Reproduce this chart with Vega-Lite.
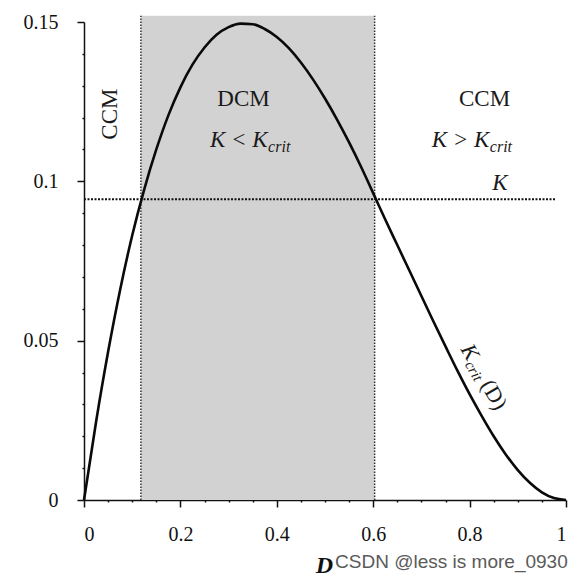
{
  "$schema": "https://vega.github.io/schema/vega-lite/v6.json",
  "width": 482,
  "height": 478,
  "autosize": {"type": "none"},
  "padding": {"left": 84, "top": 22, "right": 21, "bottom": 81},
  "background": "white",
  "config": {
    "view": {"stroke": null},
    "font": "Liberation Serif",
    "axis": {
      "grid": false,
      "domainColor": "#111",
      "domainWidth": 1.5,
      "tickColor": "#111",
      "tickWidth": 1.5,
      "labelOverlap": false,
      "labelFont": "Liberation Serif",
      "labelFontSize": 20,
      "labelColor": "#111"
    }
  },
  "datasets": {
    "curve": [
      {"D": 0, "K": 0}, {"D": 0.025, "K": 0.0245}, {"D": 0.05, "K": 0.0465},
      {"D": 0.075, "K": 0.066}, {"D": 0.1, "K": 0.083}, {"D": 0.125, "K": 0.0975},
      {"D": 0.15, "K": 0.11}, {"D": 0.175, "K": 0.1207}, {"D": 0.2, "K": 0.1295},
      {"D": 0.225, "K": 0.1366}, {"D": 0.25, "K": 0.142}, {"D": 0.275, "K": 0.146},
      {"D": 0.3, "K": 0.1484}, {"D": 0.325, "K": 0.1495}, {"D": 0.35, "K": 0.1493},
      {"D": 0.375, "K": 0.1478}, {"D": 0.4, "K": 0.1453}, {"D": 0.425, "K": 0.1418},
      {"D": 0.45, "K": 0.1373}, {"D": 0.475, "K": 0.132}, {"D": 0.5, "K": 0.126},
      {"D": 0.525, "K": 0.1194}, {"D": 0.55, "K": 0.1122}, {"D": 0.575, "K": 0.1045},
      {"D": 0.6, "K": 0.0963}, {"D": 0.625, "K": 0.088}, {"D": 0.65, "K": 0.08},
      {"D": 0.675, "K": 0.072}, {"D": 0.7, "K": 0.064}, {"D": 0.725, "K": 0.056},
      {"D": 0.75, "K": 0.0482}, {"D": 0.775, "K": 0.0405}, {"D": 0.8, "K": 0.0332},
      {"D": 0.825, "K": 0.0264}, {"D": 0.85, "K": 0.02}, {"D": 0.875, "K": 0.0143},
      {"D": 0.9, "K": 0.0094}, {"D": 0.925, "K": 0.0054}, {"D": 0.95, "K": 0.0024},
      {"D": 0.975, "K": 0.0006}, {"D": 1, "K": 0}
    ],
    "region": [{"D1": 0.118, "D2": 0.603, "K1": 0, "K2": 0.152}],
    "borders": [{"D": 0.118, "K1": 0, "K2": 0.152}, {"D": 0.603, "K1": 0, "K2": 0.152}],
    "kline": [{"D1": 0, "D2": 0.978, "K": 0.0944}],
    "plain": [
      {"label": "DCM", "D": 0.331, "K": 0.1257},
      {"label": "CCM", "D": 0.831, "K": 0.1257}
    ],
    "vert": [{"label": "CCM", "D": 0.054, "K": 0.1211}],
    "ital": [
      {"label": "K < K", "D": 0.381, "K": 0.1131},
      {"label": "K > K", "D": 0.841, "K": 0.1131},
      {"label": "K", "D": 0.879, "K": 0.0996}
    ],
    "sub": [
      {"label": "crit", "D": 0.382, "K": 0.1131},
      {"label": "crit", "D": 0.842, "K": 0.1131}
    ],
    "rotK": [{"label": "K", "D": 0.8008, "K": 0.0464}],
    "rotSub": [{"label": "crit", "D": 0.809, "K": 0.0405}],
    "rotD": [{"label": "(D)", "D": 0.8506, "K": 0.033}],
    "mark": [{"label": "CSDN @less is more_0930", "D": 0.521, "K": -0.0214}]
  },
  "layer": [
    {
      "data": {"name": "region"},
      "mark": {"type": "rect", "fill": "#d2d2d2", "stroke": null},
      "encoding": {
        "x": {"field": "D1", "type": "quantitative",
              "scale": {"domain": [0, 1], "nice": false},
              "axis": {"values": [0, 0.05, 0.1, 0.15, 0.2, 0.25, 0.3, 0.35, 0.4, 0.45, 0.5, 0.55, 0.6, 0.65, 0.7, 0.75, 0.8, 0.85, 0.9, 0.95, 1],
                       "tickCount": 100,
                       "format": "~g",
                       "labelOverlap": false,
                       "labelExpr": "indexof(['0','0.2','0.4','0.6','0.8','1'], datum.label) >= 0 ? datum.label : ''",
                       "tickSize": {"condition": {"test": "indexof(['0','0.2','0.4','0.6','0.8','1'], format(datum.value, '~g')) >= 0", "value": 7}, "value": 2},
                       "labelPadding": 17, "title": "D", "titleFont": "Liberation Serif",
                       "titleFontSize": 24, "titleFontStyle": "italic", "titleFontWeight": "bold",
                       "titleColor": "#111", "titleBaseline": "alphabetic", "titleY": 72, "titleX": 240}},
        "x2": {"field": "D2"},
        "y": {"field": "K1", "type": "quantitative",
              "scale": {"domain": [0, 0.15], "nice": false, "zero": true},
              "axis": {"values": [0, 0.01, 0.02, 0.03, 0.04, 0.05, 0.06, 0.07, 0.08, 0.09, 0.1, 0.11, 0.12, 0.13, 0.14, 0.15],
                       "tickCount": 100,
                       "format": "~g",
                       "labelOverlap": false,
                       "labelExpr": "indexof(['0','0.05','0.1','0.15'], datum.label) >= 0 ? datum.label : ''",
                       "tickSize": {"condition": {"test": "indexof(['0','0.05','0.1','0.15'], format(datum.value, '~g')) >= 0", "value": 7}, "value": 2},
                       "labelPadding": 19, "title": null}},
        "y2": {"field": "K2"}
      }
    },
    {
      "data": {"name": "borders"},
      "mark": {"type": "rule", "color": "#333", "strokeWidth": 1.5, "strokeDash": [1.5, 1.5]},
      "encoding": {
        "x": {"field": "D", "type": "quantitative"},
        "y": {"field": "K1", "type": "quantitative"},
        "y2": {"field": "K2"}
      }
    },
    {
      "data": {"name": "kline"},
      "mark": {"type": "rule", "color": "#111", "strokeWidth": 2, "strokeDash": [2, 1.5]},
      "encoding": {
        "x": {"field": "D1", "type": "quantitative"},
        "x2": {"field": "D2"},
        "y": {"field": "K", "type": "quantitative"}
      }
    },
    {
      "data": {"name": "curve"},
      "mark": {"type": "line", "color": "#0a0a0a", "strokeWidth": 2.6, "interpolate": "monotone"},
      "encoding": {
        "x": {"field": "D", "type": "quantitative"},
        "y": {"field": "K", "type": "quantitative"}
      }
    },
    {
      "data": {"name": "plain"},
      "mark": {"type": "text", "font": "Liberation Serif", "fontSize": 23, "color": "#1a1a1a", "align": "center", "baseline": "middle"},
      "encoding": {
        "x": {"field": "D", "type": "quantitative"},
        "y": {"field": "K", "type": "quantitative"},
        "text": {"field": "label"}
      }
    },
    {
      "data": {"name": "vert"},
      "mark": {"type": "text", "font": "Liberation Serif", "fontSize": 23, "color": "#1a1a1a", "align": "center", "baseline": "middle", "angle": 270},
      "encoding": {
        "x": {"field": "D", "type": "quantitative"},
        "y": {"field": "K", "type": "quantitative"},
        "text": {"field": "label"}
      }
    },
    {
      "data": {"name": "ital"},
      "mark": {"type": "text", "font": "Liberation Serif", "fontSize": 23, "fontStyle": "italic", "color": "#1a1a1a", "align": "right", "baseline": "middle"},
      "encoding": {
        "x": {"field": "D", "type": "quantitative"},
        "y": {"field": "K", "type": "quantitative"},
        "text": {"field": "label"}
      }
    },
    {
      "data": {"name": "sub"},
      "mark": {"type": "text", "font": "Liberation Serif", "fontSize": 16, "fontStyle": "italic", "color": "#1a1a1a", "align": "left", "baseline": "middle", "dy": 7},
      "encoding": {
        "x": {"field": "D", "type": "quantitative"},
        "y": {"field": "K", "type": "quantitative"},
        "text": {"field": "label"}
      }
    },
    {
      "data": {"name": "rotK"},
      "mark": {"type": "text", "font": "Liberation Serif", "fontSize": 22, "fontStyle": "italic", "color": "#1a1a1a", "align": "center", "baseline": "middle", "angle": 60},
      "encoding": {
        "x": {"field": "D", "type": "quantitative"},
        "y": {"field": "K", "type": "quantitative"},
        "text": {"field": "label"}
      }
    },
    {
      "data": {"name": "rotSub"},
      "mark": {"type": "text", "font": "Liberation Serif", "fontSize": 15, "fontStyle": "italic", "color": "#1a1a1a", "align": "center", "baseline": "middle", "angle": 60},
      "encoding": {
        "x": {"field": "D", "type": "quantitative"},
        "y": {"field": "K", "type": "quantitative"},
        "text": {"field": "label"}
      }
    },
    {
      "data": {"name": "rotD"},
      "mark": {"type": "text", "font": "Liberation Serif", "fontSize": 22, "color": "#1a1a1a", "align": "center", "baseline": "middle", "angle": 60},
      "encoding": {
        "x": {"field": "D", "type": "quantitative"},
        "y": {"field": "K", "type": "quantitative"},
        "text": {"field": "label"}
      }
    },
    {
      "data": {"name": "mark"},
      "mark": {"type": "text", "font": "Liberation Sans", "fontSize": 19, "color": "#5a5a5a", "align": "left", "baseline": "alphabetic"},
      "encoding": {
        "x": {"field": "D", "type": "quantitative"},
        "y": {"field": "K", "type": "quantitative"},
        "text": {"field": "label"}
      }
    }
  ]
}
